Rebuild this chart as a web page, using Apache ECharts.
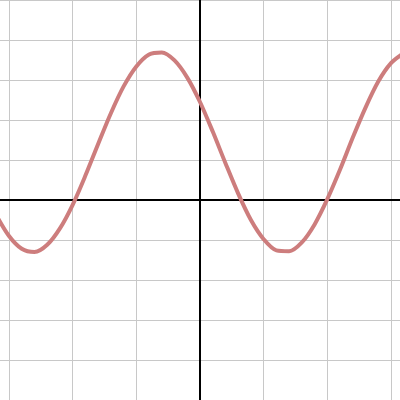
<!DOCTYPE html>
<html>
<head>
    <meta charset="utf-8"/>
    <script src="https://cdn.jsdelivr.net/npm/echarts@6/dist/echarts.min.js"></script>
</head>
<body style="margin:0">
<div id="chart" style="width: 400px;height:400px;"></div>
<script type="text/javascript">
    // points
    var xs = [-3.2, -3.0, -2.8, -2.6, -2.4, -2.2, -2.0, -1.8, -1.6, -1.4, -1.2, -1.0, -0.8, -0.6, -0.4, -0.2,
        0, 0.2, 0.4, 0.6, 0.8, 1.0, 1.2, 1.4, 1.6, 1.8, 2.0, 2.2, 2.4, 2.6, 2.8, 3.0, 3.2];
    var ys = [-0.38, -0.90, -1.22, -1.30, -1.12, -0.71, -0.12, 0.61, 1.40, 2.17, 2.84, 3.34, 3.64, 3.69, 3.49, 3.06,
        2.45, 1.71, 0.92, 0.16, -0.50, -0.98, -1.26, -1.28, -1.06, -0.61, 0.02, 0.76, 1.56, 2.31, 2.96, 3.42, 3.67];
    var xGrid = [-3, -2, -1, 1, 2, 3];

    var chart = echarts.init(document.getElementById('chart'));
    chart.setOption({
        animation: false,
        grid: { left: 0, right: 0, top: 0, bottom: 0 },
        xAxis: {
            type: 'value', min: -Math.PI, max: Math.PI,
            axisLine: { show: false }, axisTick: { show: false }, axisLabel: { show: false },
            splitLine: { show: false }
        },
        yAxis: {
            type: 'value', min: -5, max: 5, interval: 1,
            axisLine: { show: false }, axisTick: { show: false }, axisLabel: { show: false },
            splitLine: { lineStyle: { color: '#c8c8c8', width: 1 } }
        },
        series: [
            {
                type: 'line', data: [], silent: true,
                markLine: {
                    symbol: 'none', silent: true, label: { show: false },
                    lineStyle: { color: '#c8c8c8', width: 1, type: 'solid' },
                    data: xGrid.map(v => ({ xAxis: v }))
                }
            },
            {
                type: 'line', data: [], silent: true,
                markLine: {
                    symbol: 'none', silent: true, label: { show: false },
                    lineStyle: { color: '#000', width: 2, type: 'solid' },
                    data: [{ xAxis: 0 }, { yAxis: 0 }]
                }
            },
            {
                type: 'line', smooth: 0.3, showSymbol: false,
                data: xs.map((x, i) => [x, ys[i]]),
                lineStyle: { color: '#cd7d7d', width: 4 },
                z: 5
            }
        ]
    });
</script>
</body>
</html>
